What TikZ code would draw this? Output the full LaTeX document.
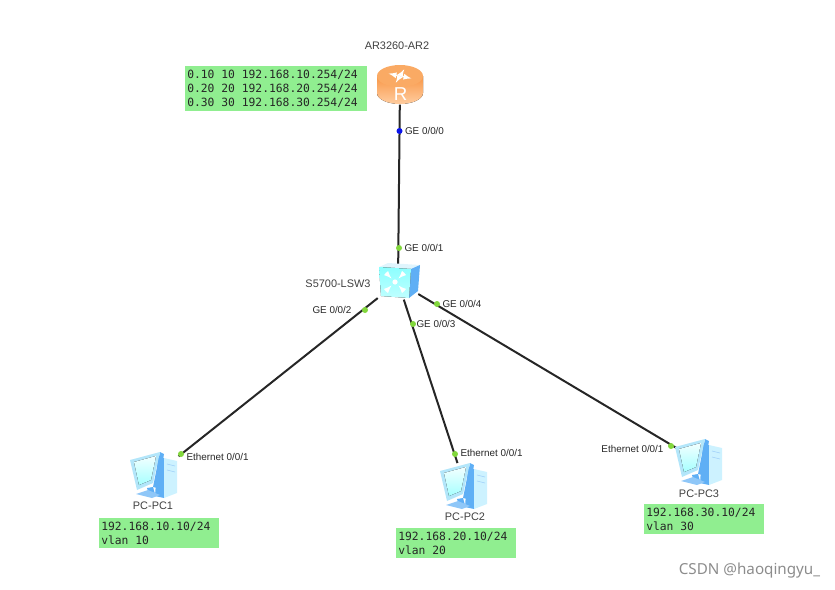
\documentclass[tikz,border=0pt]{standalone}
\usepackage{fontspec}
\setmainfont{Liberation Sans}
\newfontfamily\notefont{DejaVu Sans Mono}
\newfontfamily\markfont{Noto Sans}
\usetikzlibrary{calc, positioning}
\definecolor{notegreen}{RGB}{144,238,144}
\definecolor{portgreen}{RGB}{130,215,60}
\definecolor{portblue}{RGB}{10,20,235}
\definecolor{pcblue}{RGB}{95,175,245}
\definecolor{pcpale}{RGB}{205,242,255}
\definecolor{routertop}{RGB}{250,170,100}
\definecolor{routerlow}{RGB}{255,205,160}
\definecolor{routermid}{RGB}{248,150,70}
\begin{document}
\begin{tikzpicture}[
        x = 0.75pt, y = -0.75pt,
   device/.style = {inner sep=0pt, minimum width=#1},
     link/.style = {line width=1.5pt, black!85},
     port/.style = {circle, fill=portgreen, inner sep=0pt, minimum size=4.5pt},
 portname/.style = {font=\fontsize{7.4}{9}\selectfont, text=black!85, inner sep=0pt},
 hostname/.style = {font=\fontsize{8.2}{10}\selectfont, text=black!75, inner sep=0pt},
     note/.style = {fill=notegreen, font=\notefont\fontsize{8.5}{10.7}\selectfont, text=black!85,
                    execute at begin node={\spaceskip=5.1pt\relax},
                    align=left, inner xsep=1.5pt, inner ysep=0pt, anchor=north west, text width=#1},
pics/router/.style = {code={
    \fill[top color=routermid, bottom color=routerlow]
        (-23,-9) -- (-23,8) arc[start angle=180, end angle=0, x radius=23, y radius=11] -- (23,-9) -- cycle;
    \fill[routertop] (0,-9) ellipse[x radius=23, y radius=11];
    \foreach \a in {20,110,200,290}
        \draw[white, line width=1pt, -latex] ($(0,-9)+(\a:3 and 1.5)$) -- ($(0,-9)+(\a:12 and 7)$);
    \node[text=white, font=\fontsize{14}{14}\selectfont, inner sep=0pt] (letter) at (0.5,9) {R};
}},
pics/switch/.style = {code={
    \fill[cyan!12!white] (-19,-15) -- (-10,-19) -- (22,-17) -- (13,-13) -- cycle;
    \fill[pcblue] (13,-13) -- (22,-17) -- (20,9) -- (11,16) -- cycle;
    \fill[top color=cyan!45!white, bottom color=cyan!25!white] (-19,-15) -- (13,-13) -- (11,16) -- (-17,14) -- cycle;
    \fill[white] (-3,0) circle[radius=2.6];
    \foreach \a in {45,135,225,315}
        \draw[white, line width=1pt, latex-] ($(-3,0)+(\a:5)$) -- ($(-3,0)+(\a:13)$);
}},
pics/host/.style = {code={
    \fill[pcblue] (3,-19) -- (9,-17) -- (9,23) -- (0,21) -- cycle;
    \fill[pcpale] (9,-17) -- (22,-14) -- (22,18) -- (9,23) -- cycle;
    \draw[pcblue!60!white] (12,-11) -- (20,-9) (12,-5) -- (20,-3);
    \fill[pcblue] (-8,13) -- (-2,12) -- (0,19) -- (-6,20) -- cycle;
    \fill[pcblue!70!white] (-19,19) -- (-7,15) -- (5,20) -- (-3,23) -- cycle;
    \fill[pcblue] (5,-23) -- (9,-21) -- (3,13) -- (-2,12) -- cycle;
    \fill[cyan!30!white] (-25,-15) -- (5,-23) -- (-2,8) -- (-18,15) -- cycle;
    \fill[top color=cyan!5!white, bottom color=cyan!35!white] (-21,-13) -- (1,-19) -- (-4,5) -- (-16,10) -- cycle;
}}
                        ]
\useasboundingbox (0,0) rectangle (835,589);
% devices
    \node[device=46pt, minimum height=29pt] (ar2) at (400,85) {};
    \node[device=30pt, minimum height=26pt] (sw3) at (398,282) {};
    \node[device=35pt, minimum height=34pt] (pc1) at (155,475) {};
    \node[device=35pt, minimum height=34pt] (pc2) at (465,486) {};
    \node[device=35pt, minimum height=34pt] (pc3) at (700,462) {};
% links
    \draw[link] (ar2) -- (sw3);
    \draw[link] (sw3) -- (pc1);
    \draw[link] (sw3) -- (pc2);
    \draw[link] (sw3) -- (pc3);
% icons
    \pic at (ar2) {router};
    \pic at (sw3) {switch};
    \pic at (pc1) {host};
    \pic at (pc2) {host};
    \pic at (pc3) {host};
% ports
    \node[port, fill=portblue] (p000) at (399.5,131) {};
    \node[port] (p001) at (399,248) {};
    \node[port] (p002) at (365,310) {};
    \node[port] (p003) at (413,324) {};
    \node[port] (p004) at (437,304) {};
    \node[port] (e1) at (181,454) {};
    \node[port] (e2) at (455,454) {};
    \node[port] (e3) at (671,446) {};
% port names
    \node[portname, right=1.5pt of p000] (n000) {GE 0/0/0};
    \node[portname, right=1.5pt of p001] (n001) {GE 0/0/1};
    \node[portname, left=7.5pt of p002]  (n002) {GE 0/0/2};
    \node[portname, right=0pt of p003]   (n003) {GE 0/0/3};
    \node[portname, right=1.5pt of p004] (n004) {GE 0/0/4};
    \node[portname, right=1.5pt of e1, yshift=-2pt] (n1) {Ethernet 0/0/1};
    \node[portname, right=1.5pt of e2, yshift=1pt]  (n2) {Ethernet 0/0/1};
    \node[portname, left=3pt of e3, yshift=-2pt]    (n3) {Ethernet 0/0/1};
% host names
    \node[hostname] (ar2name) at (397,46) {AR3260-AR2};
    \node[hostname] (sw3name) at (338,284) {S5700-LSW3};
    \node[hostname] (pc1name) at (153,506) {PC-PC1};
    \node[hostname] (pc2name) at (465,517) {PC-PC2};
    \node[hostname] (pc3name) at (699,494) {PC-PC3};
% notes
    \node[note=133.5pt, minimum height=33.75pt] (ar2note) at (185,66)
        {0.10 10 192.168.10.254/24\\0.20 20 192.168.20.254/24\\0.30 30 192.168.30.254/24};
    \node[note=87pt, minimum height=22.5pt] (pc1note) at (99,518) {192.168.10.10/24\\vlan 10};
    \node[note=87pt, minimum height=22.5pt] (pc2note) at (396,528) {192.168.20.10/24\\vlan 20};
    \node[note=87pt, minimum height=22.5pt] (pc3note) at (644,504) {192.168.30.10/24\\vlan 30};
    \node[text=black!45, font=\markfont\fontsize{11.4}{13}\selectfont, inner sep=0pt] (mark) at (749.5,571) {CSDN @haoqingyu\_};
\end{tikzpicture}
\end{document}
